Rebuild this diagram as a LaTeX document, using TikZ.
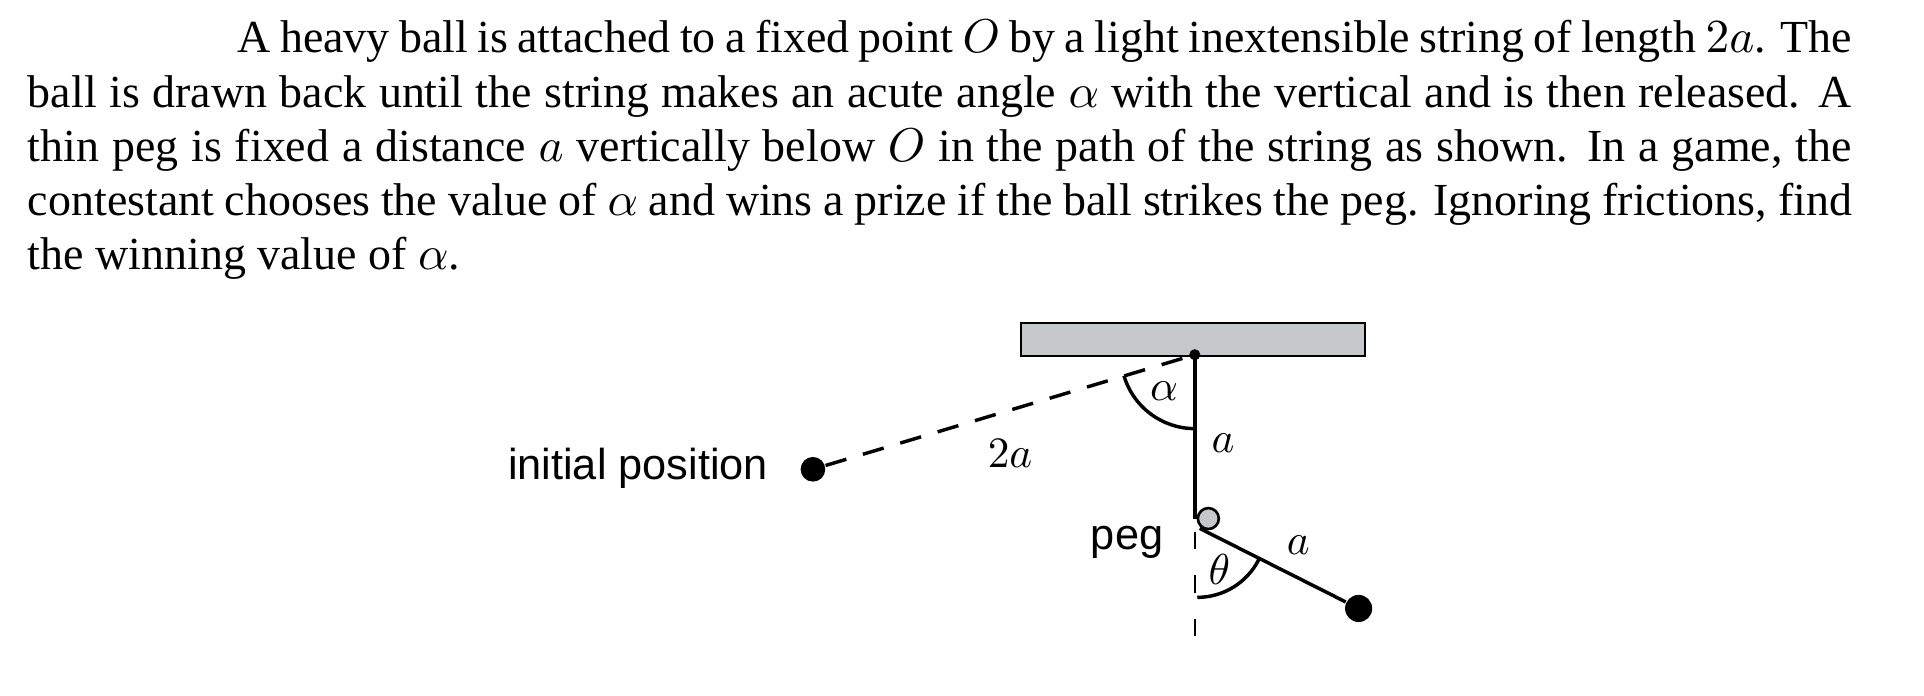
\documentclass[tikz,border=0pt]{standalone}
\usepackage{fontspec}
\setmainfont{Liberation Serif}
\newfontfamily\labsans{Liberation Sans}
\begin{document}
\begin{tikzpicture}[x=0.01cm,y=0.01cm,
  lbl/.style={font=\fontsize{10}{12}\selectfont},
  sans/.style={font=\labsans\fontsize{10}{12}\selectfont},
  ball/.style={circle,fill=black,inner sep=0pt,minimum size=0.22cm}]
\useasboundingbox (0,0) rectangle (1562,-565);
\node[anchor=north west,text width=14.8cm,align=justify,inner sep=0pt,
  font=\fontsize{10.6}{12.5}\selectfont] (txt) at (22,-16)
 {\hspace*{1.7cm}A heavy ball is attached to a fixed point $O$ by a light inextensible string of length $2a$. The ball is drawn back until the string makes an acute angle $\alpha$ with the vertical and is then released. A thin peg is fixed a distance $a$ vertically below $O$ in the path of the string as shown. In a game, the contestant chooses the value of $\alpha$ and wins a prize if the ball strikes the peg. Ignoring frictions, find the winning value of $\alpha$.};
\draw[fill={rgb,255:red,197;green,200;blue,202},line width=0.4pt] (829,-262) rectangle (1108,-289);
\coordinate (O) at (970,-288);
\coordinate (P) at (970,-421);
\node[ball,minimum size=0.2cm] (B0) at (660,-381) {};
\node[ball] (B1) at (1103,-494) {};
\draw[dash pattern=on 5pt off 4pt,line width=0.8pt] (B0) -- (O);
\draw[line width=0.8pt] (O) -- (P);
\fill (O) circle (4.5);
\draw[dash pattern=on 4pt off 6pt,line width=0.6pt] (970,-432) -- (970,-518);
\draw[line width=0.8pt] (974,-429) -- (B1);
\node[circle,draw,line width=0.6pt,fill={rgb,255:red,197;green,200;blue,202},minimum size=0.17cm,inner sep=0pt] (peg) at (981,-421) {};
\draw[line width=0.8pt] (O) ++(270:60) arc (270:196.5:60);
\draw[line width=0.8pt] (972,-429) ++(270:56) arc (270:333.3:56);
\node[lbl] (la) at (945,-318) {$\alpha$};
\node[lbl] (lA) at (993,-360) {$a$};
\node[lbl] (l2a) at (820,-368) {$2a$};
\node[lbl] (lA2) at (1054,-443) {$a$};
\node[lbl] (lt) at (990,-462) {$\theta$};
\node[sans] (peglbl) at (915,-440) {peg};
\node[sans] (ip) at (518,-380) {initial position};
\end{tikzpicture}
\end{document}
